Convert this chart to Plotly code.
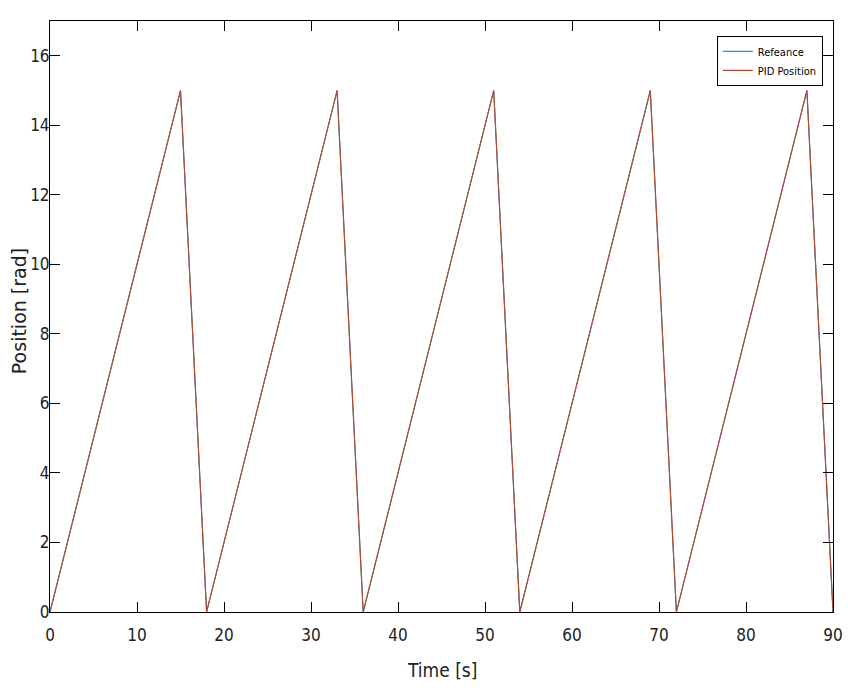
import plotly.graph_objects as go

# sawtooth reference and PID response (they overlap)
time_s = [0, 15, 18, 33, 36, 51, 54, 69, 72, 87, 90]
reference_rad = [0, 15, 0, 15, 0, 15, 0, 15, 0, 15, 0]
pid_position_rad = [0, 15, 0, 15, 0, 15, 0, 15, 0, 15, 0]

x_ticks = [0, 10, 20, 30, 40, 50, 60, 70, 80, 90]
y_ticks = [0, 2, 4, 6, 8, 10, 12, 14, 16]

NARROW = "DejaVu Sans Condensed, Liberation Sans Narrow, Liberation Sans, Arial"

fig = go.Figure()

fig.add_trace(go.Scatter(
    x=time_s, y=reference_rad, mode='lines', name='Refeance',
    line=dict(color='#0072BD', width=1)
))
fig.add_trace(go.Scatter(
    x=time_s, y=pid_position_rad, mode='lines', name='PID Position',
    line=dict(color='#B0502C', width=1.2)
))

axis_style = dict(
    showline=True, linecolor='black', linewidth=1, mirror='ticks',
    ticks='inside', ticklen=10, tickcolor='black', showgrid=False,
    zeroline=False, automargin=False,
    tickfont=dict(family=NARROW, size=17, color='#222'),
)

# page has an 8px body margin, so the figure is a bit smaller than the window
fig.update_layout(
    width=846, height=673,
    margin=dict(l=42, r=21, t=13, b=69),
    paper_bgcolor='white', plot_bgcolor='white',
    xaxis=dict(range=[0, 90], tickvals=x_ticks, ticklabelstandoff=8, **axis_style),
    yaxis=dict(range=[0, 17], tickvals=y_ticks, ticklabelstandoff=-4, **axis_style),
    legend=dict(x=0.987, y=0.975, xanchor='right', yanchor='top',
                bordercolor='black', borderwidth=1, bgcolor='white',
                font=dict(family=NARROW, size=11, color='black'),
                itemwidth=30, tracegroupgap=0),
    showlegend=True,
)

# axis titles as annotations so they sit where the MATLAB figure has them
fig.add_annotation(text='Time [s]', xref='paper', yref='paper', x=0.5, y=-0.098,
                   showarrow=False, xanchor='center', yanchor='middle',
                   font=dict(family=NARROW, size=19, color='#222'))
fig.add_annotation(text='Position [rad]', xref='paper', yref='paper', x=-0.0396, y=0.509,
                   showarrow=False, xanchor='center', yanchor='middle', textangle=-90,
                   font=dict(family='DejaVu Sans', size=19, color='#222'))

fig.write_html("out.html")
